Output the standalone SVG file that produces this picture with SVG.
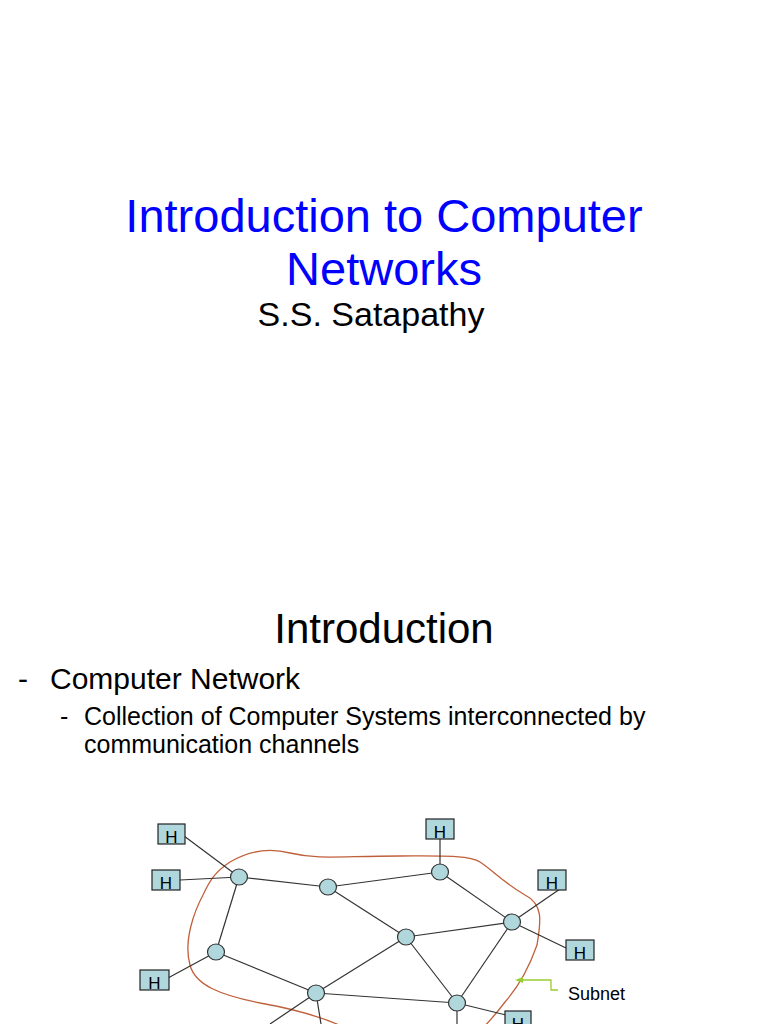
<svg xmlns="http://www.w3.org/2000/svg" width="768" height="1024" viewBox="0 0 768 1024">
<style>
text{font-family:"Liberation Sans",Arial,sans-serif}
.t{fill:#0000ff;font-size:47px;text-anchor:middle}
.h rect{fill:#b0d8dc;stroke:#222;stroke-width:1.2}
.h text{font-size:17px;text-anchor:middle}
.n{fill:#b0d8dc;stroke:#333;stroke-width:1.2}
#edges line{stroke:#333;stroke-width:1.2}
</style>
<rect width="768" height="1024" fill="#fff"/>
<text class="t" x="384" y="232">Introduction to Computer</text>
<text class="t" x="384" y="285">Networks</text>
<text x="371" y="326" font-size="34" text-anchor="middle">S.S. Satapathy</text>
<text x="384" y="643" font-size="42" text-anchor="middle">Introduction</text>
<text x="18" y="689" font-size="30">-</text>
<text x="50" y="689" font-size="30">Computer Network</text>
<text x="60" y="725" font-size="25">-</text>
<text x="84" y="725" font-size="25">Collection of Computer Systems interconnected by</text>
<text x="84" y="753" font-size="25">communication channels</text>
<path id="subnet" d="M230,862 C250,850 270,848 290,853 C320,860 340,856 400,856 C440,856 470,855 480,862 C495,872 500,880 525,895 C545,905 540,925 537,945 C530,965 520,985 505,1002 C495,1015 488,1024 480,1030 L350,1030 C330,1020 300,1010 260,1003 C220,995 195,985 190,965 C183,940 195,910 203,895 C210,880 215,872 230,862 Z" fill="none" stroke="#c0603a" stroke-width="1.3"/>
<g id="edges">
<line x1="180" y1="833" x2="239" y2="877"/>
<line x1="180" y1="880" x2="239" y2="877"/>
<line x1="440" y1="839" x2="440" y2="872"/>
<line x1="560" y1="889" x2="512" y2="922"/>
<line x1="566" y1="948" x2="512" y2="922"/>
<line x1="168" y1="978" x2="216" y2="952"/>
<line x1="506" y1="1015" x2="457" y2="1003"/>
<line x1="239" y1="877" x2="328" y2="887"/>
<line x1="328" y1="887" x2="440" y2="872"/>
<line x1="440" y1="872" x2="512" y2="922"/>
<line x1="239" y1="877" x2="216" y2="952"/>
<line x1="328" y1="887" x2="406" y2="937"/>
<line x1="406" y1="937" x2="512" y2="922"/>
<line x1="216" y1="952" x2="316" y2="993"/>
<line x1="316" y1="993" x2="406" y2="937"/>
<line x1="406" y1="937" x2="457" y2="1003"/>
<line x1="512" y1="922" x2="457" y2="1003"/>
<line x1="316" y1="993" x2="457" y2="1003"/>
<line x1="316" y1="993" x2="270" y2="1024"/>
<line x1="316" y1="993" x2="321" y2="1024"/>
<line x1="457" y1="1003" x2="457" y2="1024"/>
</g>
<g id="routers">
<ellipse class="n" cx="239" cy="877" rx="8.5" ry="8"/>
<ellipse class="n" cx="328" cy="887" rx="8.5" ry="8"/>
<ellipse class="n" cx="440" cy="872" rx="8.5" ry="8"/>
<ellipse class="n" cx="512" cy="922" rx="8.5" ry="8"/>
<ellipse class="n" cx="406" cy="937" rx="8.5" ry="8"/>
<ellipse class="n" cx="216" cy="952" rx="8.5" ry="8"/>
<ellipse class="n" cx="316" cy="993" rx="8.5" ry="8"/>
<ellipse class="n" cx="457" cy="1003" rx="8.5" ry="8"/>
</g>
<g id="h1" class="h"><rect x="158" y="824" width="27" height="20"/><text x="171.5" y="843">H</text></g>
<g id="h2" class="h"><rect x="152" y="870" width="28" height="20"/><text x="166" y="889">H</text></g>
<g id="h3" class="h"><rect x="426" y="819" width="28" height="20"/><text x="440" y="838">H</text></g>
<g id="h4" class="h"><rect x="538" y="870" width="28" height="20"/><text x="552" y="889">H</text></g>
<g id="h5" class="h"><rect x="566" y="940" width="28" height="20"/><text x="580" y="959">H</text></g>
<g id="h6" class="h"><rect x="140" y="970" width="29" height="20"/><text x="154.5" y="989">H</text></g>
<g id="h7" class="h"><rect x="505" y="1011" width="26" height="20"/><text x="518" y="1030">H</text></g>
<g id="label">
<polyline points="521,980 551,980 551,990 558,990" fill="none" stroke="#99cc33" stroke-width="1.3"/>
<polygon points="515,980 523,977 523,983" fill="#99cc33"/>
<text x="568" y="1000" font-size="18">Subnet</text>
</g>
</svg>
